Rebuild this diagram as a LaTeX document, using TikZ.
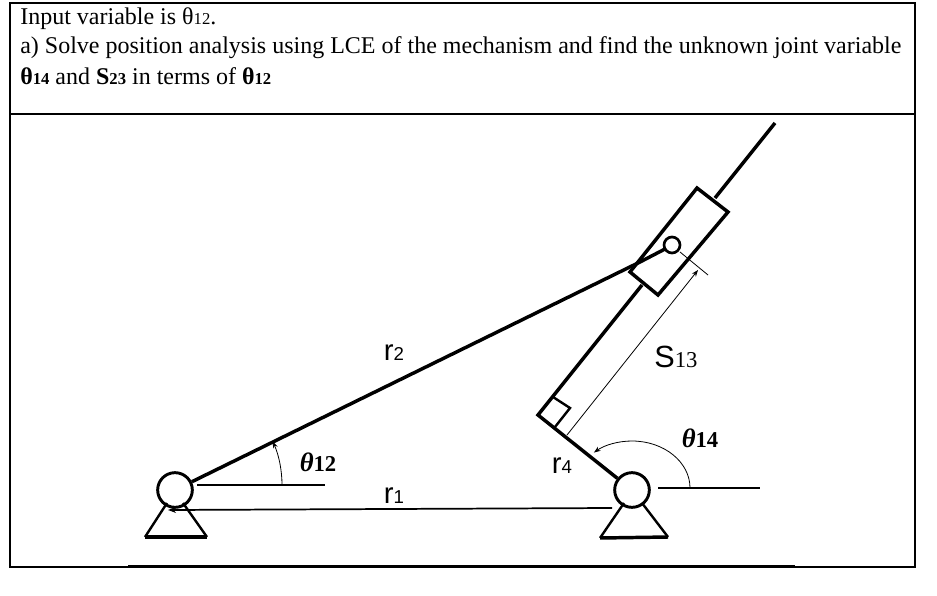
\documentclass[tikz,border=0pt]{standalone}
\usepackage{fontspec}
\setmainfont{Liberation Serif}
\newfontfamily\ariel{Liberation Sans}
\usetikzlibrary{arrows.meta}
\begin{document}
\begin{tikzpicture}[x=0.75pt,y=-0.75pt,
  link/.style={line width=2.6pt},
  thin/.style={line width=0.6pt},
  med/.style={line width=1.3pt},
  lab/.style={inner sep=0pt,font=\fontsize{20}{20}\selectfont},
  head/.style={anchor=west,inner sep=0pt,font=\fontsize{18}{20}\selectfont}]
\useasboundingbox (0,0) rectangle (937,595);
\draw[line width=0.8pt] (10,3) rectangle (915,567);
\draw[line width=0.8pt] (10,114) -- (915,114);
\draw[line width=2pt] (128,566) -- (795,566);
\node[head] (t1) at (20,19) {Input variable is θ{\fontsize{12.5}{12}\selectfont 12}.};
\node[head] (t2) at (20,48) {a) Solve position analysis using LCE of the mechanism and find the unknown joint variable};
\node[head] (t3) at (20,76) {\textbf{θ{\fontsize{12.5}{12}\selectfont 14}} and \textbf{S{\fontsize{12.5}{12}\selectfont 23}} in terms of \textbf{θ{\fontsize{12.5}{12}\selectfont 12}}};
% pivots
\node[circle,draw,line width=2.2pt,minimum size=26pt,inner sep=0] (A) at (175,490) {};
\node[circle,draw,line width=2.2pt,minimum size=26pt,inner sep=0] (B) at (632,490) {};
\draw[med,line width=1.8pt] (167,503) -- (145,537) (183,503) -- (207,537);
\draw[link] (145,537) -- (207,537);
\draw[med,line width=1.8pt] (624,503) -- (600,538) (642,503) -- (668,537);
\draw[link] (600,538) -- (668,537);
% r1
\draw[med,-{Stealth[length=6pt]}] (612,508) -- (168,510);
% r2
\coordinate (P) at (672,245);
\draw[link] (A) -- (640,262) -- (665,249);
\node[circle,draw,line width=2pt,minimum size=12pt,inner sep=0] (pin) at (P) {};
% rocker
\draw[link] (B) -- (538,415) -- (642,285);
\draw[link] (715,198) -- (775,123);
\draw[med,line width=1.8pt] (553,397) -- (570,408) -- (555,427);
\draw[link] (697,188) -- (728,212) -- (658,295) -- (630,272) -- cycle;
% S13
\draw[thin] (680,252) -- (708,275);
\draw[thin,-{Stealth[length=5pt]}] (567,435) -- (698,270);
\node[lab,font=\ariel\fontsize{23}{23}\selectfont] (s) at (676,357) {S{\fontsize{17}{17}\selectfont\rmfamily 13}};
% theta14
\draw[med] (658,488) -- (760,488);
\draw[thin,-{Stealth[length=5pt]}] (690,488) arc (0:-131:58 and 47);
\node[lab] (t14) at (700,438) {\textbf{\textit{θ}}{\fontsize{17}{17}\selectfont\bfseries 14}};
% theta12
\draw[med] (197,485) -- (325,485);
\draw[thin,-{Stealth[length=5pt]}] (282,485) arc (0:-24:107);
\node[lab] (t12) at (318,462) {\textbf{\textit{θ}}{\fontsize{17}{17}\selectfont\bfseries 12}};
% r labels
\node[lab,font=\ariel\fontsize{22}{22}\selectfont] at (394,353) {r{\fontsize{14}{14}\selectfont 2}};
\node[lab,font=\ariel\fontsize{22}{22}\selectfont] at (394,496) {r{\fontsize{14}{14}\selectfont 1}};
\node[lab,font=\ariel\fontsize{22}{22}\selectfont] at (562,466) {r{\fontsize{14}{14}\selectfont 4}};
\end{tikzpicture}
\end{document}
